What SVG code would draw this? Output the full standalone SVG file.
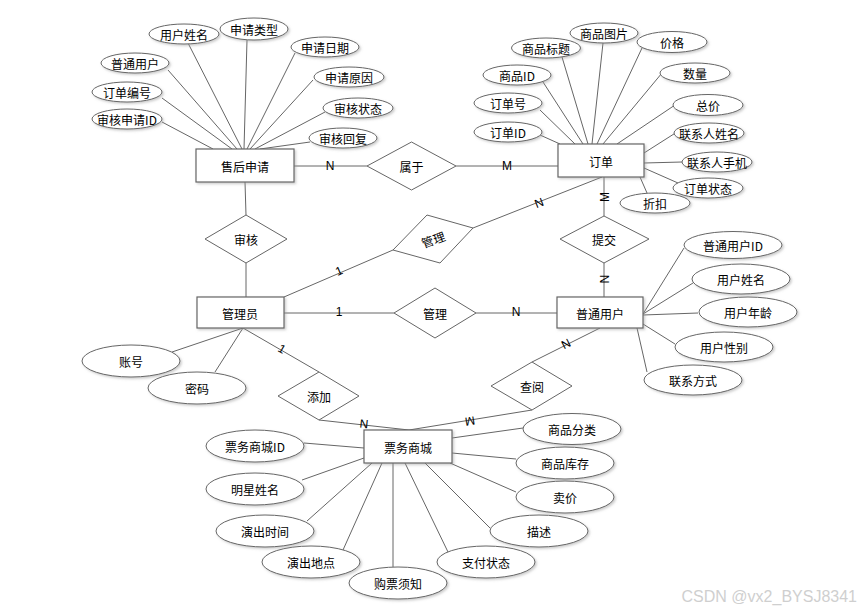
<svg xmlns="http://www.w3.org/2000/svg" width="861" height="611" viewBox="0 0 861 611">
<style>
text{font-family:"Microsoft YaHei","Noto Sans CJK SC","Noto Sans",sans-serif;font-size:12px;fill:#000;text-anchor:middle;dominant-baseline:central}
.ent rect{fill:#fff;stroke:#666;stroke-width:1.2;filter:url(#sh)}
.rel polygon{fill:#fff;stroke:#666;stroke-width:1}
.att ellipse{fill:#fff;stroke:#666;stroke-width:1;filter:url(#sh)}
#connectors line{stroke:#666;stroke-width:1}
.card{font-family:"Liberation Sans","DejaVu Sans",sans-serif;font-size:12px}
.wm{font-family:"Liberation Sans",Arial,sans-serif;font-size:16px;fill:#cfcfcf;text-anchor:end;dominant-baseline:alphabetic}
</style>
<defs>
<filter id="sh" x="-20%" y="-20%" width="150%" height="160%">
<feDropShadow dx="1.5" dy="1.5" stdDeviation="1" flood-color="#999" flood-opacity="0.5"/>
</filter>
</defs>
<rect width="861" height="611" fill="#fff"/>
<g id="connectors">
<line x1="294" y1="166" x2="367" y2="166"/>
<line x1="456" y1="166" x2="558" y2="166"/>
<line x1="245" y1="182" x2="246" y2="215"/>
<line x1="246" y1="263" x2="246" y2="297"/>
<line x1="284" y1="297" x2="393" y2="250"/>
<line x1="473" y1="228" x2="602" y2="177"/>
<line x1="284" y1="313" x2="394" y2="313"/>
<line x1="476" y1="313" x2="557" y2="313"/>
<line x1="604" y1="177" x2="604" y2="216"/>
<line x1="604" y1="263" x2="604" y2="297"/>
<line x1="243" y1="328" x2="319" y2="372"/>
<line x1="319" y1="420" x2="409" y2="430"/>
<line x1="600" y1="328" x2="532" y2="362"/>
<line x1="532" y1="410" x2="409" y2="430"/>
<line x1="162" y1="122" x2="213" y2="149"/>
<line x1="162" y1="98" x2="232" y2="149"/>
<line x1="168" y1="70" x2="237" y2="149"/>
<line x1="188" y1="43" x2="242" y2="149"/>
<line x1="247" y1="40" x2="244" y2="149"/>
<line x1="295" y1="53" x2="247" y2="149"/>
<line x1="313" y1="80" x2="250" y2="149"/>
<line x1="325" y1="112" x2="255" y2="149"/>
<line x1="310" y1="142" x2="260" y2="149"/>
<line x1="540" y1="135" x2="560" y2="144"/>
<line x1="540" y1="110" x2="575" y2="144"/>
<line x1="543" y1="82" x2="583" y2="144"/>
<line x1="562" y1="57" x2="588" y2="144"/>
<line x1="603" y1="43" x2="592" y2="144"/>
<line x1="642" y1="48" x2="597" y2="144"/>
<line x1="662" y1="73" x2="603" y2="144"/>
<line x1="675" y1="105" x2="617" y2="144"/>
<line x1="677" y1="132" x2="644" y2="153"/>
<line x1="682" y1="162" x2="644" y2="163"/>
<line x1="678" y1="183" x2="644" y2="168"/>
<line x1="647" y1="193" x2="640" y2="177"/>
<line x1="684" y1="248" x2="643" y2="314"/>
<line x1="693" y1="283" x2="643" y2="314"/>
<line x1="698" y1="313" x2="643" y2="315"/>
<line x1="675" y1="344" x2="643" y2="324"/>
<line x1="647" y1="372" x2="637" y2="328"/>
<line x1="243" y1="328" x2="172" y2="352"/>
<line x1="243" y1="328" x2="215" y2="372"/>
<line x1="523" y1="428" x2="452" y2="438"/>
<line x1="516" y1="459" x2="452" y2="453"/>
<line x1="516" y1="492" x2="450" y2="463"/>
<line x1="490" y1="528" x2="425" y2="463"/>
<line x1="448" y1="552" x2="405" y2="463"/>
<line x1="393" y1="567" x2="393" y2="463"/>
<line x1="343" y1="550" x2="382" y2="463"/>
<line x1="307" y1="521" x2="372" y2="463"/>
<line x1="302" y1="480" x2="364" y2="458"/>
<line x1="304" y1="443" x2="364" y2="448"/>
<text class="card" x="330" y="166">N</text>
<text class="card" x="507" y="166">M</text>
<text class="card" transform="translate(539,203) rotate(-21)">N</text>
<text class="card" transform="translate(339,271) rotate(-23)">1</text>
<text class="card" transform="translate(605,197) rotate(-90)">M</text>
<text class="card" transform="translate(604,279) rotate(90)">N</text>
<text class="card" x="339" y="312">1</text>
<text class="card" x="516" y="312">N</text>
<text class="card" transform="translate(566,344) rotate(-27)">N</text>
<text class="card" transform="translate(282,349) rotate(30)">1</text>
<text class="card" transform="translate(364,424) rotate(6)">N</text>
<text class="card" transform="translate(470,421) rotate(171)">M</text>
</g>
<g id="e-shouhou" class="ent"><rect x="196" y="149" width="98" height="33"/><text x="245" y="166">售后申请</text></g>
<g id="e-dingdan" class="ent"><rect x="558" y="144" width="86" height="33"/><text x="601" y="161">订单</text></g>
<g id="e-guanliyuan" class="ent"><rect x="197" y="297" width="87" height="31"/><text x="240" y="313">管理员</text></g>
<g id="e-putongyonghu" class="ent"><rect x="557" y="297" width="86" height="31"/><text x="600" y="313">普通用户</text></g>
<g id="e-piaowu" class="ent"><rect x="364" y="430" width="88" height="33"/><text x="408" y="447">票务商城</text></g>
<g id="r-shuyu" class="rel"><polygon points="367,166 411.5,142 456,166 411.5,190"/><text x="411.5" y="166">属于</text></g>
<g id="r-shenhe" class="rel"><polygon points="205,239 246,215 287,239 246,263"/><text x="246" y="239">审核</text></g>
<g id="r-guanli1" class="rel"><polygon points="393,250 427,215 473,228 440,263"/><text transform="translate(433,239) rotate(-20)">管理</text></g>
<g id="r-guanli2" class="rel"><polygon points="394,313 435,288 476,313 435,338"/><text x="435" y="313">管理</text></g>
<g id="r-tijiao" class="rel"><polygon points="560,239 604,216 649,239 604,263"/><text x="604" y="239">提交</text></g>
<g id="r-tianjia" class="rel"><polygon points="278,396 319,372 359,396 319,420"/><text x="319" y="396">添加</text></g>
<g id="r-chayue" class="rel"><polygon points="491,386 532,362 572,386 532,410"/><text x="532" y="386">查阅</text></g>
<g id="a1" class="att"><ellipse cx="184" cy="34" rx="35" ry="10"/><text x="184" y="34">用户姓名</text></g>
<g id="a2" class="att"><ellipse cx="254" cy="29" rx="34" ry="11"/><text x="254" y="29">申请类型</text></g>
<g id="a3" class="att"><ellipse cx="325" cy="47" rx="34" ry="10"/><text x="325" y="47">申请日期</text></g>
<g id="a4" class="att"><ellipse cx="349" cy="77" rx="35" ry="10"/><text x="349" y="77">申请原因</text></g>
<g id="a5" class="att"><ellipse cx="358" cy="108" rx="35" ry="10"/><text x="358" y="108">审核状态</text></g>
<g id="a6" class="att"><ellipse cx="343" cy="138" rx="34" ry="10"/><text x="343" y="138">审核回复</text></g>
<g id="a7" class="att"><ellipse cx="135" cy="63" rx="34" ry="10"/><text x="135" y="63">普通用户</text></g>
<g id="a8" class="att"><ellipse cx="127" cy="92" rx="35" ry="10"/><text x="127" y="92">订单编号</text></g>
<g id="a9" class="att"><ellipse cx="127" cy="119" rx="35" ry="10"/><text x="127" y="119">审核申请ID</text></g>
<g id="b1" class="att"><ellipse cx="604" cy="33" rx="34" ry="10"/><text x="604" y="33">商品图片</text></g>
<g id="b2" class="att"><ellipse cx="546" cy="48" rx="34.5" ry="10"/><text x="546" y="48">商品标题</text></g>
<g id="b3" class="att"><ellipse cx="672" cy="42" rx="35" ry="10.5"/><text x="672" y="42">价格</text></g>
<g id="b4" class="att"><ellipse cx="517" cy="75" rx="34" ry="10"/><text x="517" y="75">商品ID</text></g>
<g id="b5" class="att"><ellipse cx="695" cy="73" rx="35" ry="10"/><text x="695" y="73">数量</text></g>
<g id="b6" class="att"><ellipse cx="508" cy="103" rx="34" ry="10"/><text x="508" y="103">订单号</text></g>
<g id="b7" class="att"><ellipse cx="708" cy="105" rx="35" ry="10.5"/><text x="708" y="105">总价</text></g>
<g id="b8" class="att"><ellipse cx="508" cy="132" rx="34" ry="10"/><text x="508" y="132">订单ID</text></g>
<g id="b9" class="att"><ellipse cx="709" cy="133" rx="35" ry="10"/><text x="709" y="133">联系人姓名</text></g>
<g id="b10" class="att"><ellipse cx="717" cy="162" rx="35" ry="10"/><text x="717" y="162">联系人手机</text></g>
<g id="b11" class="att"><ellipse cx="708" cy="188" rx="35" ry="10"/><text x="708" y="188">订单状态</text></g>
<g id="b12" class="att"><ellipse cx="655" cy="203" rx="35" ry="10"/><text x="655" y="203">折扣</text></g>
<g id="c1" class="att"><ellipse cx="733" cy="245" rx="49" ry="13.5"/><text x="733" y="245">普通用户ID</text></g>
<g id="c2" class="att"><ellipse cx="741" cy="279" rx="49" ry="15"/><text x="741" y="279">用户姓名</text></g>
<g id="c3" class="att"><ellipse cx="748" cy="312" rx="49" ry="15"/><text x="748" y="312">用户年龄</text></g>
<g id="c4" class="att"><ellipse cx="724" cy="347" rx="49" ry="15"/><text x="724" y="347">用户性别</text></g>
<g id="c5" class="att"><ellipse cx="693" cy="380" rx="49" ry="15"/><text x="693" y="380">联系方式</text></g>
<g id="d1" class="att"><ellipse cx="131" cy="361" rx="49" ry="16"/><text x="131" y="361">账号</text></g>
<g id="d2" class="att"><ellipse cx="197" cy="388" rx="49" ry="16"/><text x="197" y="388">密码</text></g>
<g id="f1" class="att"><ellipse cx="572" cy="429" rx="49" ry="15.5"/><text x="572" y="429">商品分类</text></g>
<g id="f2" class="att"><ellipse cx="565" cy="463" rx="49" ry="16"/><text x="565" y="463">商品库存</text></g>
<g id="f3" class="att"><ellipse cx="565" cy="497" rx="49" ry="16"/><text x="565" y="497">卖价</text></g>
<g id="f4" class="att"><ellipse cx="539" cy="531" rx="49" ry="16"/><text x="539" y="531">描述</text></g>
<g id="f5" class="att"><ellipse cx="486" cy="562" rx="49" ry="16"/><text x="486" y="562">支付状态</text></g>
<g id="f6" class="att"><ellipse cx="398" cy="583" rx="49" ry="16"/><text x="398" y="583">购票须知</text></g>
<g id="f7" class="att"><ellipse cx="311" cy="562" rx="49" ry="16"/><text x="311" y="562">演出地点</text></g>
<g id="f8" class="att"><ellipse cx="265" cy="531" rx="49" ry="16"/><text x="265" y="531">演出时间</text></g>
<g id="f9" class="att"><ellipse cx="255" cy="489" rx="49" ry="16"/><text x="255" y="489">明星姓名</text></g>
<g id="f10" class="att"><ellipse cx="255" cy="446" rx="49" ry="16"/><text x="255" y="446">票务商城ID</text></g>
<text class="wm" x="857" y="602">CSDN @vx2_BYSJ8341</text>
</svg>
